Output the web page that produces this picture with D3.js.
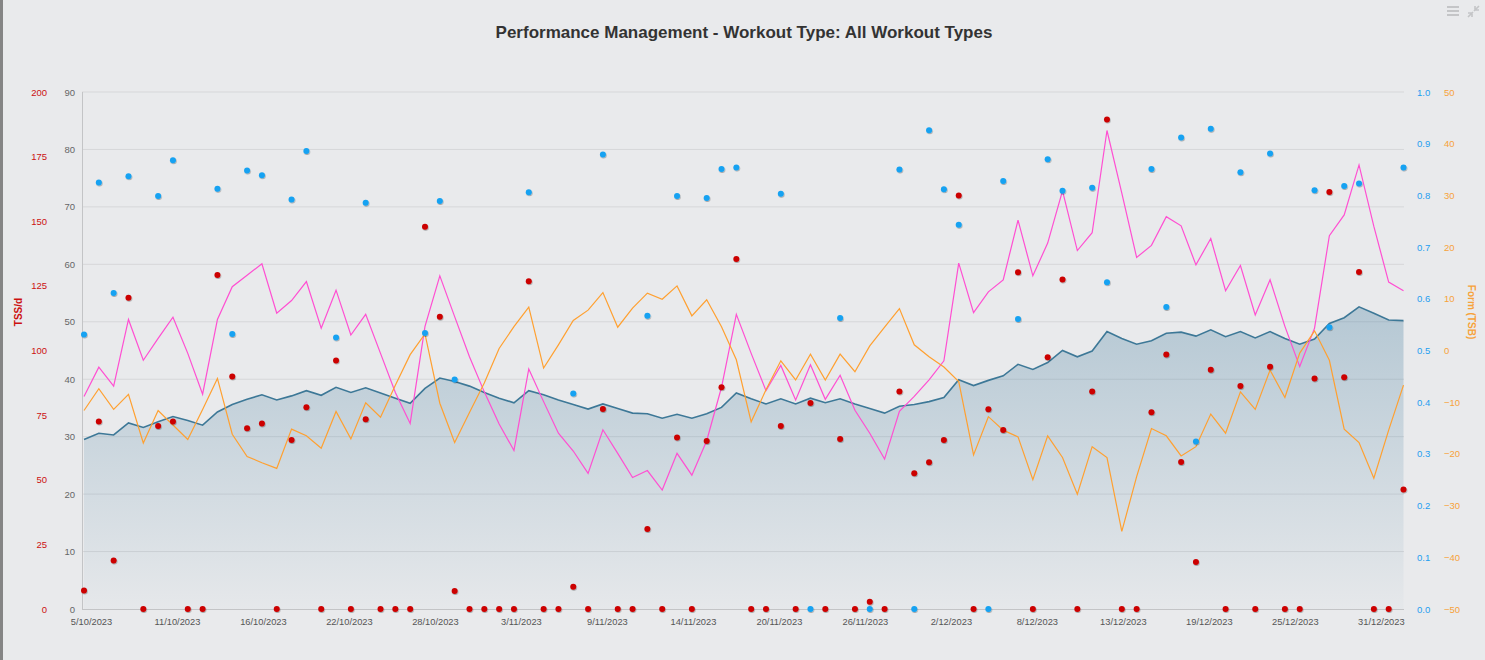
<!DOCTYPE html>
<html>
<head>
<meta charset="utf-8">
<script src="https://cdn.jsdelivr.net/npm/d3@7"></script>
<style>
  html, body { margin: 0; padding: 0; background: #e9eaec; overflow: hidden; }
  svg { display: block; font-family: "Liberation Sans", Arial, Helvetica, sans-serif; }
</style>
</head>
<body>
<script>
// one entry per day, 5/10/2023 .. 2/1/2024
const startDay = Date.UTC(2023, 9, 5);
const days = d3.range(90).map(i => new Date(startDay + i * 864e5));

const tickLabels = ["5/10/2023", "11/10/2023", "16/10/2023", "22/10/2023", "28/10/2023", "3/11/2023",
  "9/11/2023", "14/11/2023", "20/11/2023", "26/11/2023", "2/12/2023", "8/12/2023",
  "13/12/2023", "19/12/2023", "25/12/2023", "31/12/2023"];

// Fitness (CTL)
const ctl = [29.5, 30.6, 30.3, 32.4, 31.6, 32.6, 33.5, 32.8, 32.0, 34.3,
  35.6, 36.5, 37.3, 36.4, 37.1, 38.0, 37.2, 38.6, 37.7, 38.5,
  37.6, 36.7, 35.8, 38.4, 40.2, 39.6, 38.8, 37.7, 36.7, 35.9,
  38.0, 37.3, 36.4, 35.6, 34.8, 35.7, 34.9, 34.1, 34.0, 33.2,
  33.9, 33.2, 34.0, 35.1, 37.6, 36.6, 35.7, 36.6, 35.7, 36.7,
  35.9, 36.6, 35.7, 34.9, 34.1, 35.3, 35.6, 36.1, 36.8, 39.9,
  38.9, 39.8, 40.6, 42.6, 41.7, 42.9, 45.0, 43.9, 44.9, 48.3,
  47.1, 46.1, 46.7, 48.0, 48.2, 47.5, 48.6, 47.4, 48.3, 47.2,
  48.3, 47.1, 46.1, 47.0, 49.7, 50.7, 52.6, 51.5, 50.3, 50.2];

// Fatigue (ATL)
const atl = [37.0, 42.1, 38.8, 50.4, 43.3, 47.1, 50.8, 44.5, 37.4, 50.4,
  56.1, 58.1, 60.1, 51.5, 53.7, 57.0, 48.9, 55.5, 47.7, 51.3,
  44.5, 37.7, 32.3, 49.2, 58.0, 50.9, 43.9, 37.8, 32.2, 27.6,
  41.8, 36.1, 30.6, 27.5, 23.6, 31.2, 27.1, 22.9, 24.1, 20.7,
  27.1, 23.3, 29.3, 38.6, 51.3, 44.5, 38.0, 42.4, 36.4, 42.5,
  36.5, 40.7, 34.6, 30.6, 26.1, 34.4, 37.0, 39.9, 43.2, 60.2,
  51.6, 55.2, 57.3, 67.7, 58.0, 63.7, 72.8, 62.4, 65.5, 83.3,
  72.4, 61.2, 63.3, 68.3, 66.7, 59.9, 64.5, 55.4, 59.8, 51.2,
  57.3, 49.2, 42.2, 48.9, 65.0, 68.6, 77.3, 66.6, 56.9, 55.4];

// Form (TSB)
const tsb = [-11.6, -7.4, -11.4, -8.5, -17.9, -11.6, -14.4, -17.2, -11.4, -5.4,
  -16.2, -20.5, -21.7, -22.8, -15.2, -16.5, -18.9, -11.8, -17.1, -10.1,
  -12.9, -6.7, -0.8, 3.2, -10.2, -17.8, -12.0, -6.3, 0.4, 4.6,
  8.4, -3.4, 1.1, 5.8, 7.8, 11.2, 4.5, 8.2, 11.1, 9.9,
  12.5, 6.7, 9.8, 4.6, -1.8, -13.8, -7.6, -2.0, -5.7, -0.7,
  -5.7, -0.7, -4.1, 0.9, 4.5, 8.1, 1.1, -1.2, -3.2, -6.0,
  -20.2, -12.8, -15.4, -16.7, -25.0, -16.5, -20.7, -27.8, -18.6, -20.7,
  -35.0, -24.4, -15.1, -16.5, -20.4, -18.6, -12.3, -16.0, -8.0, -11.4,
  -3.8, -9.1, -0.5, 3.8, -1.9, -15.2, -17.8, -24.7, -15.4, -6.7];

// TSS per day
const tss = [7.2, 72.5, 18.8, 120.4, 0, 70.8, 72.5, 0, 0, 129.2,
  89.9, 69.9, 71.8, 0, 65.4, 78.0, 0, 96.1, 0, 73.4,
  0, 0, 0, 147.9, 113.1, 7.0, 0, 0, 0, 0,
  126.8, 0, 0, 8.6, 0, 77.4, 0, 0, 30.9, 0,
  66.3, 0, 65.0, 85.8, 135.4, 0, 0, 70.8, 0, 79.7,
  0, 65.8, 0, 2.8, 0, 84.1, 52.5, 56.8, 65.4, 160.0,
  0, 77.3, 69.2, 130.3, 0, 97.4, 127.5, 0, 84.1, 189.4,
  0, 0, 76.1, 98.5, 56.9, 18.2, 92.6, 0, 86.3, 0,
  93.7, 0, 0, 89.2, 161.3, 89.7, 130.4, 0, 0, 46.2];

// Intensity factor (null = no workout)
const intensity = [0.531, 0.825, 0.611, 0.837, null, 0.799, 0.868, null, null, 0.813,
  0.532, 0.848, 0.839, null, 0.792, 0.886, null, 0.525, null, 0.786,
  null, null, null, 0.534, 0.789, 0.444, null, null, null, null,
  0.806, null, null, 0.417, null, 0.879, null, null, 0.567, null,
  0.799, null, 0.795, 0.851, 0.854, null, null, 0.803, null, 0,
  null, 0.563, null, 0, null, 0.850, 0, 0.926, 0.812, 0.743,
  null, 0, 0.828, 0.561, null, 0.870, 0.809, null, 0.815, 0.632,
  null, null, 0.851, 0.584, 0.912, 0.324, 0.929, null, 0.845, null,
  0.881, null, null, 0.810, 0.545, 0.818, 0.823, null, null, 0.854];

const W = 1485, H = 660;
const plotTop = 92, plotBottom = 609, plotLeft = 82, plotRight = 1404;

const svg = d3.select("body").append("svg").attr("width", W).attr("height", H);

const defs = svg.append("defs");
const grad = defs.append("linearGradient").attr("id", "ctlFill")
  .attr("gradientUnits", "userSpaceOnUse").attr("x1", 0).attr("x2", 0).attr("y1", plotTop).attr("y2", plotBottom);
grad.append("stop").attr("offset", 0).attr("stop-color", "rgb(60,120,155)").attr("stop-opacity", 0.5);
grad.append("stop").attr("offset", 1).attr("stop-color", "rgb(60,120,155)").attr("stop-opacity", 0.02);
const shadow = defs.append("filter").attr("id", "dotShadow").attr("x", "-50%").attr("y", "-50%").attr("width", "200%").attr("height", "200%");
shadow.append("feDropShadow").attr("dx", 0.6).attr("dy", 1).attr("stdDeviation", 0.7)
  .attr("flood-color", "#000").attr("flood-opacity", 0.3);

svg.append("rect").attr("width", W).attr("height", H).attr("fill", "#e9eaec");
svg.append("rect").attr("width", 3).attr("height", H).attr("fill", "#858585");

// scales
const x = d3.scaleLinear().domain([0, days.length - 1]).range([84, 1403.5]);
const yFit = d3.scaleLinear().domain([0, 90]).range([plotBottom, plotTop]);
const yTss = d3.scaleLinear().domain([0, 200]).range([plotBottom, plotTop]);
const yIf = d3.scaleLinear().domain([0, 1]).range([plotBottom, plotTop]);
const yTsb = d3.scaleLinear().domain([-50, 50]).range([plotBottom, plotTop]);

// title
svg.append("text").attr("x", 744).attr("y", 38).attr("text-anchor", "middle")
  .attr("font-size", 17).attr("font-weight", "bold").attr("fill", "#333")
  .text("Performance Management - Workout Type: All Workout Types");

// menu icons
const ic = svg.append("g").attr("fill", "#c4c5c7");
[6, 10, 14].forEach(yy => ic.append("rect").attr("x", 1447).attr("y", yy).attr("width", 12).attr("height", 2));
svg.append("path").attr("d", "M1468,17 L1473,12 M1474,11 L1479,6 M1468,13 L1472,13 L1472,17 M1475,6 L1475,10 L1479,10")
  .attr("stroke", "#c4c5c7").attr("stroke-width", 1.6).attr("fill", "none");

// grid
svg.append("g").selectAll("line").data(d3.range(10, 91, 10)).join("line")
  .attr("x1", plotLeft).attr("x2", plotRight).attr("y1", d => yFit(d)).attr("y2", d => yFit(d))
  .attr("stroke", "#d6d7d9").attr("stroke-width", 1);

function styleAxis(g, color, size) {
  g.select(".domain").remove();
  g.selectAll("text").attr("fill", color).attr("font-size", size);
}

// left axes
svg.append("g").attr("transform", `translate(${plotLeft},0)`)
  .call(d3.axisLeft(yFit).tickValues(d3.range(0, 91, 10)).tickSize(0).tickPadding(7))
  .call(g => styleAxis(g, "#666", 9.5));
svg.append("g").attr("transform", "translate(47,0)")
  .call(d3.axisLeft(yTss).tickValues(d3.range(0, 201, 25)).tickSize(0).tickPadding(0))
  .call(g => styleAxis(g, "#cc1111", 9.5));
svg.append("text").attr("transform", "translate(22,312) rotate(-90)").attr("text-anchor", "middle")
  .attr("font-size", 10).attr("font-weight", "bold").attr("fill", "#cc1111").text("TSS/d");

// right axes
svg.append("g").attr("transform", `translate(${plotRight},0)`)
  .call(d3.axisRight(yIf).tickValues(d3.range(0, 11).map(d => d / 10)).tickFormat(d3.format(".1f")).tickSize(0).tickPadding(13))
  .call(g => styleAxis(g, "#1e9ef0", 9.5));
svg.append("g").attr("transform", `translate(${plotRight},0)`)
  .call(d3.axisRight(yTsb).tickValues(d3.range(-50, 51, 10)).tickSize(0).tickPadding(40))
  .call(g => styleAxis(g, "#f7a23a", 9.5));
svg.append("text").attr("transform", "translate(1468,312) rotate(90)").attr("text-anchor", "middle")
  .attr("font-size", 10).attr("font-weight", "bold").attr("fill", "#f7a23a").text("Form (TSB)");

// x axis
svg.append("line").attr("x1", plotLeft).attr("x2", plotRight).attr("y1", plotBottom + 0.5).attr("y2", plotBottom + 0.5)
  .attr("stroke", "#c3c4c6");
svg.append("line").attr("x1", plotLeft + 0.5).attr("x2", plotLeft + 0.5).attr("y1", plotTop).attr("y2", plotBottom)
  .attr("stroke", "#c3c4c6");
const tickPos = tickLabels.map((t, k) => 0.47 + k * 5.8);
svg.append("g").attr("transform", `translate(0,${plotBottom})`)
  .call(d3.axisBottom(x).tickValues(tickPos).tickFormat((d, k) => tickLabels[k]).tickSize(0).tickPadding(9))
  .call(g => styleAxis(g, "#555", 9.3));

// fitness area
const idx = d3.range(days.length);
svg.append("path").datum(idx)
  .attr("d", d3.area().x(i => x(i)).y0(plotBottom).y1(i => yFit(ctl[i])))
  .attr("fill", "url(#ctlFill)");
svg.append("path").datum(idx)
  .attr("d", d3.line().x(i => x(i)).y(i => yFit(ctl[i])))
  .attr("fill", "none").attr("stroke", "#3d7897").attr("stroke-width", 1.6);

// fatigue line
svg.append("path").datum(idx)
  .attr("d", d3.line().x(i => x(i)).y(i => yFit(atl[i])))
  .attr("fill", "none").attr("stroke", "#ff4fd2").attr("stroke-width", 1.2);

// form line
svg.append("path").datum(idx)
  .attr("d", d3.line().x(i => x(i)).y(i => yTsb(tsb[i])))
  .attr("fill", "none").attr("stroke", "#ffa030").attr("stroke-width", 1.2);

// TSS dots
svg.append("g").attr("filter", "url(#dotShadow)").selectAll("circle")
  .data(idx.filter(i => tss[i] != null)).join("circle")
  .attr("cx", i => x(i)).attr("cy", i => yTss(tss[i])).attr("r", 3)
  .attr("fill", "#cc0000");

// IF dots
svg.append("g").attr("filter", "url(#dotShadow)").selectAll("circle")
  .data(idx.filter(i => intensity[i] != null)).join("circle")
  .attr("cx", i => x(i)).attr("cy", i => yIf(intensity[i])).attr("r", 3)
  .attr("fill", "#14a2f2");
</script>
</body>
</html>
